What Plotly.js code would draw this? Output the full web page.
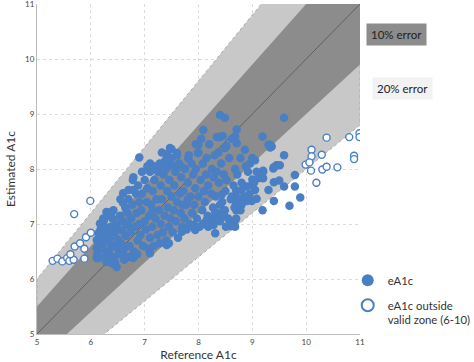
<!DOCTYPE html>
<html><head><meta charset="utf-8">
<script src="https://cdn.plot.ly/plotly-3.0.1.min.js"></script>
<style>html,body{margin:0;padding:0;background:#fff}#chart{width:474px;height:362px}</style>
</head><body><div id="chart"></div>
<script>
// Axis ticks
const tickVals = [5, 6, 7, 8, 9, 10, 11];
// Error bands (fraction of reference)
const errorLevels = [0.2, 0.1];
const bandLabels = ["20% error", "10% error"];
const bandColors = ["#c8c8c8", "#8c8c8c"];
// eA1c within valid zone: [reference, estimated]
const eA1cPoints = [
[6.90,8.21],[6.79,7.85],[7.41,8.27],[7.50,8.36],[7.60,8.29],[8.40,8.98],[8.49,8.93],[8.71,8.72],[8.34,8.58],[8.40,8.58],
[8.00,8.44],[7.81,8.19],[7.99,8.29],[7.28,8.07],[7.47,8.07],[7.69,8.04],[8.52,8.42],[8.71,8.47],[8.68,8.59],[9.59,8.93],
[8.09,8.71],[9.19,8.59],[9.30,8.44],[9.36,8.41],[8.86,8.35],[8.49,8.38],[9.59,8.25],[9.05,8.16],[8.96,8.10],[9.45,8.07],
[9.51,8.07],[9.39,8.01],[9.79,7.89],[9.20,7.95],[9.89,7.48],[9.69,7.33],[9.40,7.42],[9.19,7.25],[9.59,7.68],[9.40,7.76],
[9.50,7.79],[9.30,7.62],[9.08,7.46],[8.99,7.42],[8.90,7.42],[8.80,7.35],[8.78,7.25],[8.70,7.10],[8.60,6.96],[8.51,6.95],
[9.40,8.03],[9.20,7.97],[9.20,7.83],[9.11,7.83],[9.00,7.81],[8.99,7.71],[9.05,7.62],[8.90,7.68],[8.80,7.62],[8.70,7.61],
[8.62,7.50],[8.82,7.47],[8.70,7.36],[8.70,7.25],[8.49,7.25],[8.40,7.35],[8.31,7.22],[8.28,7.12],[8.15,7.07],[8.09,7.01],
[8.18,6.95],[9.33,8.44],[9.33,8.39],[9.79,7.68],[8.68,7.07],[8.31,6.83],[7.94,6.89],[7.91,6.98],[8.37,7.10],[8.46,7.22],
[8.43,7.53],[6.48,6.22],[6.29,6.31],[6.11,6.38],[6.60,6.44],[6.79,6.38],[7.10,6.47],[7.41,6.62],[7.69,6.86],[8.28,6.98],
[8.59,7.04],[8.68,6.95],[6.11,6.56],[6.11,6.71],[6.14,6.83],[6.17,7.01],[6.23,7.10],[6.29,7.22],[6.39,7.22],[6.60,7.56],
[6.70,7.62],[6.79,7.62],[6.60,7.38],[6.42,7.25],[6.36,7.21],[7.10,8.10],[7.32,8.30],[7.47,8.38],[7.28,8.10],
[6.12,6.45],[6.15,6.62],[6.18,6.90],[6.20,6.75],[6.22,6.55],[6.25,6.95],[6.28,6.68],[6.28,6.42],[6.24,7.05],[6.30,6.85],[6.15,6.38],[6.30,7.15],
[6.33,6.50],[6.35,6.75],[6.37,6.95],[6.38,6.62],[6.40,7.10],[6.42,6.40],[6.44,6.85],[6.46,6.58],[6.48,7.00],[6.35,7.20],[6.50,6.72],[6.45,6.30],[6.40,6.28],[6.50,6.90],
[6.52,6.45],[6.54,7.15],[6.56,6.65],[6.58,6.88],[6.60,7.05],[6.62,6.55],[6.64,7.30],[6.65,6.78],[6.68,6.98],[6.70,6.40],[6.55,7.45],[6.68,7.20],[6.70,7.45],[6.62,6.35],
[6.72,6.60],[6.74,6.85],[6.75,7.10],[6.77,7.35],[6.80,6.50],[6.82,6.95],[6.84,7.55],[6.85,7.20],[6.87,6.70],[6.88,7.70],[6.90,7.00],[6.78,7.80],[6.90,7.40],[6.86,6.45],
[6.92,6.80],[6.94,7.25],[6.95,7.55],[6.97,6.60],[7.00,7.05],[7.00,7.80],[7.02,6.90],[7.04,7.40],[7.05,7.65],[7.07,6.55],[7.08,7.15],[7.10,7.95],[6.95,7.95],[7.10,6.75],[7.05,8.05],
[7.12,7.35],[7.14,6.95],[7.15,7.60],[7.17,6.60],[7.18,7.80],[7.20,7.10],[7.22,7.45],[7.24,6.80],[7.25,7.95],[7.27,7.25],[7.28,6.65],[7.30,7.70],[7.20,8.05],[7.30,7.00],[7.15,7.25],
[7.32,7.45],[7.34,6.85],[7.35,7.90],[7.37,7.15],[7.38,8.15],[7.40,6.70],[7.42,7.60],[7.43,7.30],[7.45,6.95],[7.46,7.80],[7.48,7.10],[7.50,7.50],[7.40,8.00],[7.50,8.20],[7.45,6.65],
[7.52,6.85],[7.54,7.25],[7.55,7.70],[7.57,7.95],[7.58,7.05],[7.60,7.40],[7.62,6.75],[7.64,8.10],[7.65,7.55],[7.67,7.20],[7.68,7.85],[7.70,6.95],[7.60,8.25],[7.70,7.35],[7.55,8.05],
[7.72,7.60],[7.74,7.10],[7.75,8.00],[7.77,7.35],[7.78,6.90],[7.80,7.75],[7.82,8.25],[7.84,7.00],[7.85,7.50],[7.87,8.10],[7.88,7.20],[7.90,7.90],[7.80,7.45],[7.90,6.95],
[7.92,7.35],[7.94,7.65],[7.95,8.00],[7.97,7.10],[8.00,8.30],[8.00,7.50],[8.02,6.95],[8.04,7.80],[8.05,8.55],[8.07,7.25],[8.08,8.10],[8.10,7.60],[8.10,7.00],[7.95,8.45],
[8.12,7.40],[8.14,7.90],[8.15,8.20],[8.17,7.15],[8.18,7.70],[8.20,8.45],[8.22,7.00],[8.24,7.55],[8.25,8.00],[8.27,7.30],[8.28,7.85],[8.30,8.25],[8.20,7.05],
[8.32,7.50],[8.34,7.95],[8.35,7.20],[8.37,8.30],[8.38,7.75],[8.40,7.05],[8.42,8.10],[8.44,7.40],[8.45,8.60],[8.47,7.90],[8.48,7.15],[8.50,8.40],[8.50,7.60],
[8.52,7.80],[8.55,7.10],[8.57,8.20],[8.60,7.45],[8.62,8.55],[8.65,7.70],[8.67,7.30],[8.68,8.00],[8.70,7.50],
[8.72,7.90],[8.75,7.40],[8.78,8.20],[8.80,7.75],[8.85,7.50],[8.88,8.05],
[8.92,7.95],[8.95,7.55],[9.00,8.20],[9.03,7.75],[9.08,7.95]
];
// eA1c outside valid zone (6-10): [reference, estimated]
const outsidePoints = [
[5.29,6.33],[5.38,6.37],[5.47,6.32],[5.56,6.38],[5.60,6.33],[5.68,6.35],[5.70,6.59],[5.80,6.65],[5.88,6.55],[5.88,6.37],
[5.91,6.76],[6.00,6.84],[5.69,7.18],[5.99,7.42],[5.62,6.45],
[10.38,8.57],[10.80,8.58],[10.99,8.65],[10.99,8.58],[10.10,8.35],[10.29,8.26],[10.10,8.23],[9.99,8.08],[10.06,8.12],
[10.89,8.24],[10.89,8.18],[10.09,7.97],[10.30,7.99],[10.38,8.04],[10.58,8.03],[10.19,7.75]
];

const xMin = tickVals[0], xMax = tickVals[tickVals.length - 1];
const traces = [];
errorLevels.forEach((e, i) => {
  traces.push({
    x: [xMin, xMax, xMax, xMin, xMin],
    y: [xMin * (1 - e), xMax * (1 - e), xMax * (1 + e), xMin * (1 + e), xMin * (1 - e)],
    type: 'scatter', mode: 'lines', fill: 'toself', fillcolor: bandColors[i],
    line: {color: i === 0 ? '#a8a8a8' : bandColors[i], width: i === 0 ? 1 : 0, dash: 'dot'},
    hoverinfo: 'skip', showlegend: false
  });
});
traces.push({x: [xMin, xMax], y: [xMin, xMax], type: 'scatter', mode: 'lines',
  line: {color: '#555555', width: 0.8}, hoverinfo: 'skip', showlegend: false});
traces.push({x: eA1cPoints.map(p => p[0]), y: eA1cPoints.map(p => p[1]), type: 'scatter', mode: 'markers',
  name: 'eA1c', legendgroup: 'a', marker: {color: '#4a7fc4', size: 8.5, line: {width: 0}}});
traces.push({x: outsidePoints.map(p => p[0]), y: outsidePoints.map(p => p[1]), type: 'scatter', mode: 'markers',
  name: 'eA1c outside<br>valid zone (6-10)', legendgroup: 'b',
  marker: {color: '#ffffff', size: 7, symbol: 'circle', line: {color: '#4a7fc4', width: 1.4}}});

const axisCommon = {
  range: [xMin, xMax], tickvals: tickVals, showgrid: true, gridcolor: '#dcdcdc', griddash: 'dot', gridwidth: 1,
  zeroline: false, showline: true, linecolor: '#bdbdbd', linewidth: 1, ticks: '', ticklabeloverflow: 'allow',
  tickfont: {family: 'Lato, sans-serif', size: 8, color: '#444'}, fixedrange: true
};
const layout = {
  width: 474, height: 362,
  margin: {l: 37, r: 114, t: 4, b: 28, autoexpand: false},
  paper_bgcolor: '#ffffff', plot_bgcolor: '#ffffff',
  font: {family: 'Lato, sans-serif', color: '#333'},
  xaxis: Object.assign({}, axisCommon, {title: {text: 'Reference A1c', font: {size: 12, color: '#333'}, standoff: 4}}),
  yaxis: Object.assign({}, axisCommon, {title: {text: 'Estimated A1c', font: {size: 12, color: '#333'}, standoff: 6}}),
  showlegend: true,
  legend: {x: 0.962, xanchor: 'left', y: 0.205, yanchor: 'top', font: {size: 11.3, color: '#333'}, bgcolor: 'rgba(0,0,0,0)',
    itemsizing: 'constant', traceorder: 'grouped', tracegroupgap: 6, valign: 'top'},
  annotations: [
    {xref: 'paper', yref: 'paper', x: 1.02, xanchor: 'left', y: 0.9076, yanchor: 'middle', text: bandLabels[1], showarrow: false,
     bgcolor: bandColors[1], borderpad: 4, font: {size: 11.5, color: '#222'}},
    {xref: 'paper', yref: 'paper', x: 1.037, xanchor: 'left', y: 0.744, yanchor: 'middle', text: bandLabels[0], showarrow: false,
     bgcolor: '#f2f2f2', borderpad: 4, font: {size: 11.5, color: '#222'}}
  ]
};
Plotly.newPlot('chart', traces, layout, {displayModeBar: false, staticPlot: true});
</script></body></html>
